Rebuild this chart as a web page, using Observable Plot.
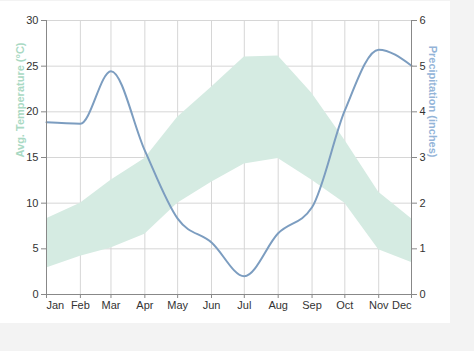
<!DOCTYPE html>
<html>
<head>
<meta charset="utf-8">
<script src="https://cdn.jsdelivr.net/npm/d3@7"></script>
<script src="https://cdn.jsdelivr.net/npm/@observablehq/plot@0.6"></script>
<style>
  html, body { margin: 0; padding: 0; background: #f3f3f3; }
  #panel { position: absolute; left: 0; top: 1px; width: 450px; height: 322px; background: #fff; }
  svg { font-family: "Liberation Sans", Arial, sans-serif; }
</style>
</head>
<body>
<div id="panel"></div>
<script>
const months = ["Jan","Feb","Mar","Apr","May","Jun","Jul","Aug","Sep","Oct","Nov","Dec"];
const tempLow  = [2.9, 4.2, 5.1, 6.6, 10.0, 12.3, 14.3, 14.9, 12.5, 10.0, 4.9, 3.5];
const tempHigh = [8.3, 10.0, 12.5, 14.9, 19.4, 22.7, 26.0, 26.1, 22.0, 16.9, 11.2, 8.3];
const precip   = [3.77, 3.74, 4.89, 3.15, 1.66, 1.14, 0.40, 1.34, 1.91, 4.03, 5.36, 5.01];
const tempTicks = [0, 5, 10, 15, 20, 25, 30];
const precipTicks = [0, 1, 2, 3, 4, 5, 6];

const data = months.map((m, i) => ({
  date: new Date(Date.UTC(2015, i, 1)),
  low: tempLow[i], high: tempHigh[i], precip: precip[i]
}));
const ratio = 30 / 6;
const dates = data.map(d => d.date);
const fmt = d3.utcFormat("%b");
const axisOpts = { tickFormat: fmt, tickSize: 4, tickPadding: 3, stroke: "#888", fill: "#333", label: null };

const chart = Plot.plot({
  width: 450,
  height: 322,
  marginTop: 19,
  marginBottom: 29,
  marginLeft: 46,
  marginRight: 39,
  style: { fontSize: "11px", color: "#333", background: "transparent" },
  x: { type: "utc", domain: [dates[0], dates[11]] },
  y: { domain: [0, 30] },
  marks: [
    Plot.gridX(dates, { stroke: "#d6d6d6", strokeOpacity: 1 }),
    Plot.gridY(tempTicks, { stroke: "#d6d6d6", strokeOpacity: 1 }),
    Plot.areaY(data, { x: "date", y1: "low", y2: "high", fill: "#d5ebe2" }),
    Plot.lineY(data, { x: "date", y: d => d.precip * ratio, stroke: "#7c9dc0", strokeWidth: 2, curve: "monotone-x" }),
    Plot.axisX(dates.slice(0, 1), { ...axisOpts, textAnchor: "start" }),
    Plot.axisX(dates.slice(1, 11), axisOpts),
    Plot.axisX(dates.slice(11), { ...axisOpts, textAnchor: "end" }),
    Plot.axisY(tempTicks, { anchor: "left", tickSize: 5, tickPadding: 3, stroke: "#888", fill: "#333", label: null }),
    Plot.axisY(precipTicks.map(v => v * ratio), { anchor: "right", tickFormat: d => d / ratio, tickSize: 5, tickPadding: 3, stroke: "#888", fill: "#333", label: null }),
    Plot.ruleX([dates[0], dates[11]], { stroke: "#888" }),
    Plot.ruleY([0], { stroke: "#888" }),
    Plot.text(["Avg. Temperature (°C)"], { frameAnchor: "left", dx: -26, rotate: -90, fill: "#a9d9c3", fontWeight: "bold", fontSize: 11 }),
    Plot.text(["Precipitation (inches)"], { frameAnchor: "right", dx: 21, rotate: 90, fill: "#93b4d8", fontWeight: "bold", fontSize: 11 })
  ]
});
document.getElementById("panel").appendChild(chart);
</script>
</body>
</html>
